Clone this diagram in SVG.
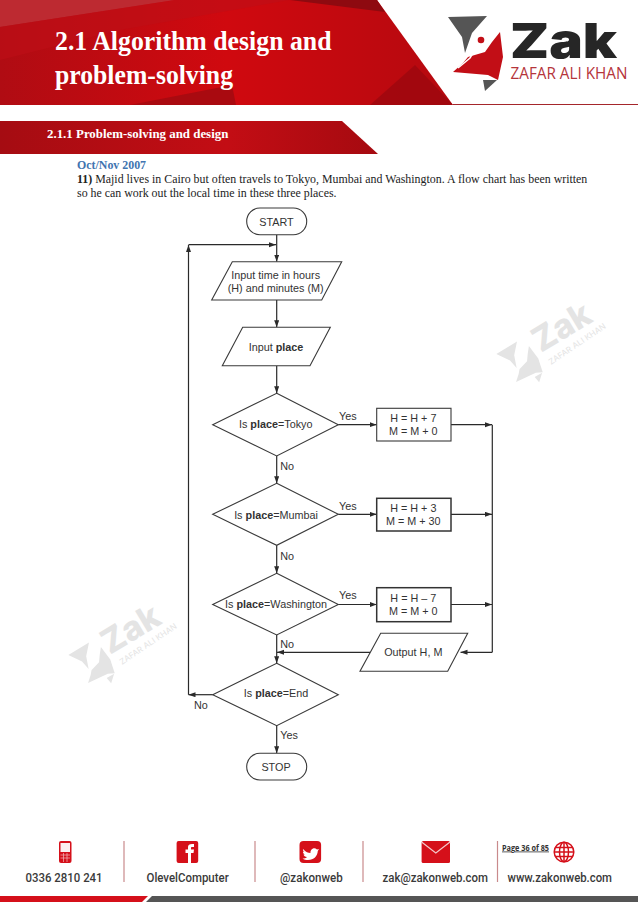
<svg xmlns="http://www.w3.org/2000/svg" width="638" height="902" viewBox="0 0 638 902">
<style>
.n{fill:#fff;stroke:#3a3a3a;stroke-width:1.100}
.b{fill:#fff;stroke:#333;stroke-width:1.500}
.t{font-family:"Liberation Sans",Arial,sans-serif;font-size:10.8px;fill:#333;text-anchor:middle}
.l{font-family:"Liberation Sans",Arial,sans-serif;font-size:10.8px;fill:#333}
.c{fill:none;stroke:#2a2a2a;stroke-width:1.200;marker-end:url(#a)}
.p{fill:none;stroke:#2a2a2a;stroke-width:1.200}
.s{font-family:"Liberation Serif","Times New Roman",serif}
.f{font-family:"Roboto","Liberation Sans",sans-serif;font-size:12px;font-weight:500;fill:#3a3a3a}
.sep{stroke:#c98a8c;stroke-width:1.200}
.ic{fill:#d5101a}
.wm{fill:#e4e4e4}
.wt{font-family:"Inter","Liberation Sans",sans-serif;fill:#e4e4e4}
</style>
<defs>
<marker id="a" markerUnits="userSpaceOnUse" markerWidth="7" markerHeight="6" refX="7" refY="2.500" orient="auto"><path d="M0,0L7,2.500L0,5Z" fill="#2a2a2a"/></marker>
<linearGradient id="h" x1="0" y1="0" x2="1" y2="0"><stop offset="0" stop-color="#b00c13"/><stop offset=".5" stop-color="#d0090f"/><stop offset="1" stop-color="#b5090f"/></linearGradient>
<linearGradient id="b2" x1="0" y1="0" x2="1" y2="0"><stop offset="0" stop-color="#a50c12"/><stop offset=".6" stop-color="#c30d14"/><stop offset="1" stop-color="#a50a10"/></linearGradient>
<g id="wl"><polygon points="448,17 487,16 472,33 465,53 462,37"/><polygon points="500,32 503,57 498,80 488,75 453,72 463,63 468,57 485,52 492,42"/><polygon points="483,80 497,80 485,91"/></g>
</defs>
<rect width="638" height="902" fill="#fff"/>
<g id="header">
<polygon points="0,0 377,0 453,105 0,105" fill="url(#h)"/>
<polygon points="0,0 175,0 0,27" fill="#bd2a31"/>
<polygon points="175,0 290,0 120,30 0,60 0,27" fill="#be0f17" opacity=".6"/>
<polygon points="290,0 377,0 385,12" fill="#8e0a10"/>
<polygon points="130,105 232,85 236,105" fill="#a90a10"/>
<polygon points="370,105 415,65 453,105" fill="#9c080e" opacity=".8"/>
<line x1="453" y1="104.500" x2="638" y2="104.500" stroke="#a5262b" stroke-width="1.200"/>
<text class="s" x="55" y="50" font-size="26.500" font-weight="700" fill="#fff" textLength="276.500" lengthAdjust="spacingAndGlyphs">2.1 Algorithm design and</text>
<text class="s" x="55" y="84" font-size="26.500" font-weight="700" fill="#fff" textLength="178" lengthAdjust="spacingAndGlyphs">problem-solving</text>
</g>
<g id="logo">
<polygon points="448,17 487,16 472,33 465,53 462,37" fill="#555"/>
<polygon points="500,32 503,57 498,80 488,75 453,72 463,63 468,57 485,52 492,42" fill="#c20e16"/>
<polygon points="483,80 497,80 485,91" fill="#555"/>
<path d="M481,40L470,58L458,68" fill="none" stroke="#fff" stroke-width="1.500"/>
<circle cx="481" cy="40" r="3.300" fill="#c20e16"/>
<text x="510" y="58" font-family="Inter,'Liberation Sans',sans-serif" font-weight="900" font-size="48" fill="#262626" textLength="107" lengthAdjust="spacingAndGlyphs">Zak</text>
<text x="510.500" y="79" font-family="'Open Sans','Liberation Sans',sans-serif" font-size="15.500" fill="#b5353b" textLength="117" lengthAdjust="spacingAndGlyphs">ZAFAR ALI KHAN</text>
</g>
<g id="banner">
<polygon points="0,121 342,121 378,154 0,154" fill="url(#b2)"/>
<text class="s" x="47" y="137.500" font-size="12.900" font-weight="700" fill="#fff">2.1.1 Problem-solving and design</text>
</g>
<g id="watermarks">
<use href="#wl" class="wm" transform="translate(522,365) rotate(-30) scale(.62) translate(-475,-53)"/>
<text class="wt" font-weight="800" font-size="34" textLength="62" lengthAdjust="spacingAndGlyphs" transform="translate(541,353) rotate(-31)">Zak</text>
<text class="wt" font-size="8" textLength="67" lengthAdjust="spacingAndGlyphs" transform="translate(551,365) rotate(-34)">ZAFAR ALI KHAN</text>
<use href="#wl" class="wm" transform="translate(94,666) rotate(-30) scale(.62) translate(-475,-53)"/>
<text class="wt" font-weight="800" font-size="34" textLength="62" lengthAdjust="spacingAndGlyphs" transform="translate(110,655) rotate(-31)">Zak</text>
<text class="wt" font-size="8" textLength="67" lengthAdjust="spacingAndGlyphs" transform="translate(122,665) rotate(-34)">ZAFAR ALI KHAN</text>
</g>
<g id="question" class="s" font-size="11.900">
<text x="77" y="169" font-weight="700" fill="#3f74b0">Oct/Nov 2007</text>
<text x="77" y="183" fill="#222"><tspan font-weight="700">11)</tspan> Majid lives in Cairo but often travels to Tokyo, Mumbai and Washington. A flow chart has been written</text>
<text x="77" y="197" fill="#222">so he can work out the local time in these three places.</text>
</g>
<g id="connectors">
<path class="c" d="M276.700,234.700V261.700"/>
<path class="c" d="M276.700,300V327.300"/>
<path class="c" d="M276.700,365.700V393.300"/>
<path class="c" d="M276.700,456V483.300"/>
<path class="c" d="M276.700,545.300V573.300"/>
<path class="c" d="M276.700,635V663.300"/>
<path class="c" d="M276.700,725.700V753.300"/>
<path class="c" d="M338.300,424.700H376.700"/>
<path class="c" d="M338.300,514.300H376.700"/>
<path class="c" d="M338.300,604.500H376.700"/>
<path class="c" d="M451,424.700H492"/>
<path class="c" d="M451,514.300H492"/>
<path class="c" d="M451,604.500H492"/>
<path class="p" d="M492.300,424.700V652.300"/>
<path class="c" d="M492.300,652.300H460.500"/>
<path class="c" d="M370,652.300H277"/>
<path class="c" d="M212.700,694.700H188.500"/>
<path class="c" d="M188.500,694.700V245"/>
<path class="c" d="M188.500,244.700H276"/>
<g class="l">
<text x="339" y="420">Yes</text><text x="280.300" y="470">No</text>
<text x="339" y="510">Yes</text><text x="280.300" y="560">No</text>
<text x="339" y="599.300">Yes</text><text x="280.300" y="647.700">No</text>
<text x="194" y="708.700">No</text><text x="280.300" y="739">Yes</text>
</g>
</g>
<g id="start"><rect class="n" x="246.700" y="208" width="60" height="26.700" rx="13.300"/><text class="t" x="276.500" y="226">START</text></g>
<g id="input-time"><polygon class="n" points="232.300,261.700 341.700,261.700 321.700,300 211.700,300"/><text class="t" x="275.700" y="278.700">Input time in hours</text><text class="t" x="275.700" y="291.700">(H) and minutes (M)</text></g>
<g id="input-place"><polygon class="n" points="242.700,327.300 330.300,327.300 310,365.700 222.300,365.700"/><text class="t" x="276" y="350.700">Input <tspan font-weight="700">place</tspan></text></g>
<g id="tokyo"><polygon class="n" points="276.700,393.300 338.300,424.700 276.700,456 212.700,424.700"/><text class="t" x="275.700" y="428">Is <tspan font-weight="700">place</tspan>=Tokyo</text></g>
<g id="mumbai"><polygon class="n" points="276.700,483.300 338.300,514.300 276.700,545.300 212.700,514.300"/><text class="t" x="276" y="518.700">Is <tspan font-weight="700">place</tspan>=Mumbai</text></g>
<g id="washington"><polygon class="n" points="276.700,573.300 338.300,604.500 276.700,635 212.700,604.500"/><text class="t" x="276" y="608.300">Is <tspan font-weight="700">place</tspan>=Washington</text></g>
<g id="end"><polygon class="n" points="276.700,663.300 338.300,694.700 276.700,725.700 212.700,694.700"/><text class="t" x="276" y="697">Is <tspan font-weight="700">place</tspan>=End</text></g>
<g id="calc-tokyo"><rect class="n" x="376.700" y="408.300" width="74.300" height="32.700"/><text class="t" x="413.300" y="422">H = H + 7</text><text class="t" x="413.300" y="435">M = M + 0</text></g>
<g id="calc-mumbai"><rect class="b" x="376.700" y="498.300" width="74.300" height="32.700"/><text class="t" x="413.300" y="512">H = H + 3</text><text class="t" x="413.300" y="525.300">M = M + 30</text></g>
<g id="calc-washington"><rect class="b" x="376.700" y="587.700" width="74.300" height="34"/><text class="t" x="413.300" y="602">H = H – 7</text><text class="t" x="413.300" y="615.300">M = M + 0</text></g>
<g id="output"><polygon class="n" points="380.700,633.300 467.700,633.300 447.700,671.300 360,671.300"/><text class="t" x="413.300" y="656">Output H, M</text></g>
<g id="stop"><rect class="n" x="246.700" y="753.300" width="60" height="26.700" rx="13.300"/><text class="t" x="276" y="771">STOP</text></g>
<g id="footer">
<line class="sep" x1="124" y1="841" x2="124" y2="882"/><line class="sep" x1="255" y1="841" x2="255" y2="882"/><line class="sep" x1="363" y1="841" x2="363" y2="882"/><line class="sep" x1="497.500" y1="841" x2="497.500" y2="882"/>
<rect class="ic" x="59" y="841" width="12.500" height="22" rx="2"/><rect x="60.500" y="843" width="9.500" height="9" fill="#fbeeee"/><path d="M60.500,855H70M60.500,858H70M63.500,853V862M67,853V862" stroke="#f3b9bb" stroke-width=".7"/>
<rect class="ic" x="176.600" y="841" width="21.600" height="22" rx="2"/><path d="M188,863V853H185.500V849.500H188V847C188,844.500 190,843.500 194,844V847H192C191,847 191,847.500 191,848.500V849.500H194L193.500,853H191V863Z" fill="#fff"/>
<rect class="ic" x="299.500" y="841" width="21.600" height="22" rx="4"/><path d="M303,849C306,852 308,853 310.500,853C310,849.500 314,846.500 317,849.500L319,849L317.800,851C317.500,856 314,860 308,860C306,860 304,859.500 302.500,858.500C304.500,858.500 306,858 307,857C305,857 304,856 303.500,854.500H305C303.500,854 302.800,852.500 303,851.500L304.500,852C303.200,851 302.700,850 303,849Z" fill="#fff"/>
<rect class="ic" x="421.600" y="841" width="28.400" height="22" rx="1.500"/><path d="M421.600,842L435.800,853L450,842" fill="none" stroke="#f3c9cb" stroke-width="1.200"/>
<g fill="none" stroke="#d5101a" stroke-width="1.500"><circle cx="564" cy="852" r="9.800"/><ellipse cx="564" cy="852" rx="4.500" ry="9.800"/><path d="M564,842V862M555,847.500H573M554.500,852H573.500M555,856.500H573"/></g>
<text class="f" x="25.600" y="882" textLength="77" lengthAdjust="spacingAndGlyphs">0336 2810 241</text>
<text class="f" x="146.500" y="882" textLength="82.200" lengthAdjust="spacingAndGlyphs">OlevelComputer</text>
<text class="f" x="280" y="882" textLength="62.700" lengthAdjust="spacingAndGlyphs">@zakonweb</text>
<text class="f" x="382.600" y="882" textLength="105.400" lengthAdjust="spacingAndGlyphs">zak@zakonweb.com</text>
<text class="f" x="507.500" y="882" textLength="104.500" lengthAdjust="spacingAndGlyphs">www.zakonweb.com</text>
<text x="502" y="850.500" font-family="'Open Sans','Liberation Sans',sans-serif" font-size="8" font-weight="700" fill="#333" text-decoration="underline" textLength="47" lengthAdjust="spacingAndGlyphs">Page 36 of 85</text>
<polygon points="0,896 148,896 142,902 0,902" fill="#d5101a"/>
<polygon points="152,896 638,896 638,902 146,902" fill="#555"/>
</g>
</svg>
